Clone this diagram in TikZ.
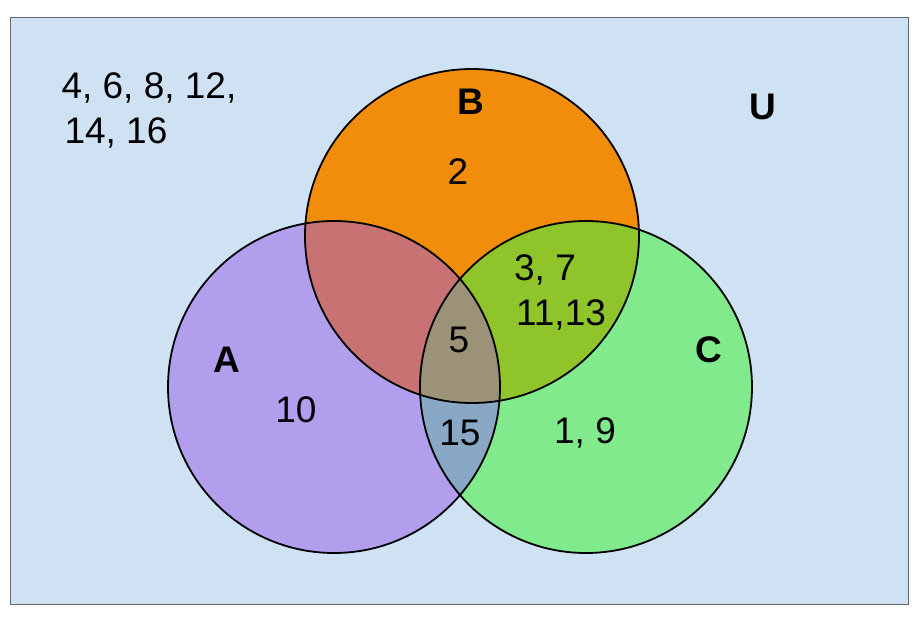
\documentclass[tikz,border=0pt]{standalone}
\usepackage{fontspec}
\setmainfont{Liberation Sans}
\definecolor{bgc}{HTML}{CFE2F3}
\definecolor{ca}{HTML}{B19FEE}
\definecolor{cb}{HTML}{F28C0B}
\definecolor{cc}{HTML}{80EA8C}
\definecolor{cab}{HTML}{C87274}
\definecolor{cbc}{HTML}{8FC42A}
\definecolor{cac}{HTML}{88A8C6}
\definecolor{cabc}{HTML}{9C9277}
\begin{document}
\begin{tikzpicture}[x=1pt,y=-1pt,
  lbl/.style={font=\fontsize{37}{42}\selectfont},
  blbl/.style={font=\fontsize{37}{42}\selectfont\bfseries},
  ring/.style={draw=black,line width=1.8pt}]
\useasboundingbox (0,0) rectangle (922,623);
\node[draw=gray!80!black,fill=bgc,line width=0.8pt,minimum width=898pt,minimum height=587pt,inner sep=0pt,anchor=north west] (U) at (10,17) {};
\def\CA{(334,387) circle[radius=166]}
\def\CB{(472,236) circle[radius=167]}
\def\CC{(586,387) circle[radius=166]}
\fill[ca] \CA; \fill[cb] \CB; \fill[cc] \CC;
\begin{scope}\clip \CA; \fill[cab] \CB; \fill[cac] \CC; \end{scope}
\begin{scope}\clip \CB; \fill[cbc] \CC; \end{scope}
\begin{scope}\clip \CA; \clip \CB; \fill[cabc] \CC; \end{scope}
\draw[ring] \CA; \draw[ring] \CB; \draw[ring] \CC;
\node[lbl,anchor=west] (t1) at (58,88) {4, 6, 8, 12,};
\node[lbl,anchor=west] (t2) at (61,133) {14, 16};
\node[blbl] (lb) at (471,102) {B};
\node[blbl] (lu) at (763,107) {U};
\node[blbl] (la) at (227,360) {A};
\node[blbl] (lc) at (709,350) {C};
\node[lbl] (n2) at (458,172) {2};
\node[lbl] (n37) at (545,270) {3, 7};
\node[lbl] (n1113) at (561,315) {11,13};
\node[lbl] (n5) at (459,340) {5};
\node[lbl] (n10) at (296,410) {10};
\node[lbl] (n15) at (460,433) {15};
\node[lbl] (n19) at (585,433) {1, 9};
\end{tikzpicture}
\end{document}
